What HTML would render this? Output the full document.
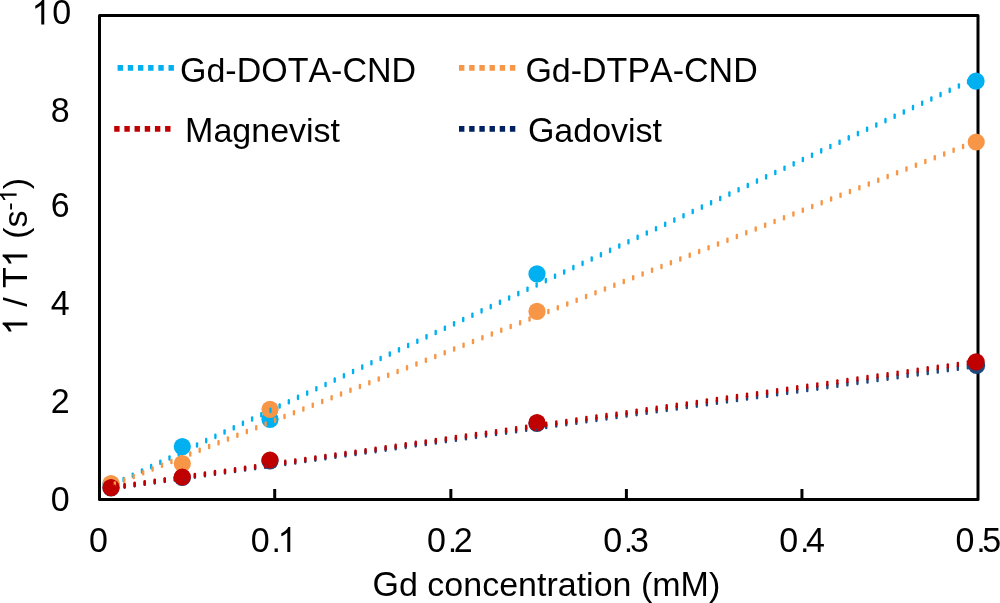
<!DOCTYPE html>
<html><head><meta charset="utf-8">
<style>
html,body{margin:0;padding:0;background:#fff;}
body{width:1000px;height:603px;overflow:hidden;position:relative;}
svg{position:absolute;left:0;top:0;will-change:transform;}
text{font-family:"Liberation Sans",sans-serif;fill:#000;font-kerning:none;white-space:pre;}
</style></head><body>
<svg width="1000" height="603" viewBox="0 0 1000 603">
<rect x="99.5" y="15.5" width="878.5" height="484" fill="none" stroke="#000" stroke-width="3" stroke-linejoin="round"/>
<g stroke="#000" stroke-width="3">
<line x1="274.7" y1="489" x2="274.7" y2="499.5"/>
<line x1="450.85" y1="489" x2="450.85" y2="499.5"/>
<line x1="626.4" y1="489" x2="626.4" y2="499.5"/>
<line x1="801.95" y1="489" x2="801.95" y2="499.5"/>
</g>
<circle cx="111" cy="484" r="8.6" fill="#00B0F0"/>
<circle cx="182.3" cy="446.6" r="8.6" fill="#00B0F0"/>
<circle cx="270" cy="419.3" r="8.6" fill="#00B0F0"/>
<circle cx="537" cy="273.9" r="8.6" fill="#00B0F0"/>
<circle cx="976" cy="81.2" r="8.6" fill="#00B0F0"/>
<circle cx="111" cy="483.5" r="8.6" fill="#F79646"/>
<circle cx="182.3" cy="463.6" r="8.6" fill="#F79646"/>
<circle cx="270" cy="409.3" r="8.6" fill="#F79646"/>
<circle cx="537" cy="311.4" r="8.6" fill="#F79646"/>
<circle cx="976.2" cy="142" r="8.6" fill="#F79646"/>
<circle cx="111" cy="488" r="8.6" fill="#1F497D"/>
<circle cx="182.3" cy="477.5" r="8.6" fill="#1F497D"/>
<circle cx="270" cy="461" r="8.6" fill="#1F497D"/>
<circle cx="537" cy="423.5" r="8.6" fill="#1F497D"/>
<circle cx="976.6" cy="365.3" r="8.6" fill="#1F497D"/>
<circle cx="111" cy="487.6" r="8.6" fill="#C00000"/>
<circle cx="182.3" cy="477" r="8.6" fill="#C00000"/>
<circle cx="270" cy="460" r="8.6" fill="#C00000"/>
<circle cx="537" cy="422.7" r="8.6" fill="#C00000"/>
<circle cx="976.1" cy="361.8" r="8.6" fill="#C00000"/>
<rect x="122.40" y="476.80" width="2.4" height="5.6" rx="1.1" fill="#00B0F0"/>
<rect x="131.58" y="472.47" width="2.4" height="5.6" rx="1.1" fill="#00B0F0"/>
<rect x="140.76" y="468.15" width="2.4" height="5.6" rx="1.1" fill="#00B0F0"/>
<rect x="149.94" y="463.82" width="2.4" height="5.6" rx="1.1" fill="#00B0F0"/>
<rect x="159.12" y="459.50" width="2.4" height="5.6" rx="1.1" fill="#00B0F0"/>
<rect x="168.30" y="455.17" width="2.4" height="5.6" rx="1.1" fill="#00B0F0"/>
<rect x="177.47" y="450.85" width="2.4" height="5.6" rx="1.1" fill="#00B0F0"/>
<rect x="186.65" y="446.52" width="2.4" height="5.6" rx="1.1" fill="#00B0F0"/>
<rect x="195.83" y="442.20" width="2.4" height="5.6" rx="1.1" fill="#00B0F0"/>
<rect x="205.01" y="437.87" width="2.4" height="5.6" rx="1.1" fill="#00B0F0"/>
<rect x="214.19" y="433.55" width="2.4" height="5.6" rx="1.1" fill="#00B0F0"/>
<rect x="223.37" y="429.22" width="2.4" height="5.6" rx="1.1" fill="#00B0F0"/>
<rect x="232.55" y="424.90" width="2.4" height="5.6" rx="1.1" fill="#00B0F0"/>
<rect x="241.73" y="420.57" width="2.4" height="5.6" rx="1.1" fill="#00B0F0"/>
<rect x="250.91" y="416.25" width="2.4" height="5.6" rx="1.1" fill="#00B0F0"/>
<rect x="260.09" y="411.92" width="2.4" height="5.6" rx="1.1" fill="#00B0F0"/>
<rect x="269.26" y="407.60" width="2.4" height="5.6" rx="1.1" fill="#00B0F0"/>
<rect x="278.44" y="403.27" width="2.4" height="5.6" rx="1.1" fill="#00B0F0"/>
<rect x="287.62" y="398.95" width="2.4" height="5.6" rx="1.1" fill="#00B0F0"/>
<rect x="296.80" y="394.62" width="2.4" height="5.6" rx="1.1" fill="#00B0F0"/>
<rect x="305.98" y="390.30" width="2.4" height="5.6" rx="1.1" fill="#00B0F0"/>
<rect x="315.16" y="385.97" width="2.4" height="5.6" rx="1.1" fill="#00B0F0"/>
<rect x="324.34" y="381.65" width="2.4" height="5.6" rx="1.1" fill="#00B0F0"/>
<rect x="333.52" y="377.32" width="2.4" height="5.6" rx="1.1" fill="#00B0F0"/>
<rect x="342.70" y="373.00" width="2.4" height="5.6" rx="1.1" fill="#00B0F0"/>
<rect x="351.88" y="368.67" width="2.4" height="5.6" rx="1.1" fill="#00B0F0"/>
<rect x="361.05" y="364.35" width="2.4" height="5.6" rx="1.1" fill="#00B0F0"/>
<rect x="370.23" y="360.02" width="2.4" height="5.6" rx="1.1" fill="#00B0F0"/>
<rect x="379.41" y="355.70" width="2.4" height="5.6" rx="1.1" fill="#00B0F0"/>
<rect x="388.59" y="351.37" width="2.4" height="5.6" rx="1.1" fill="#00B0F0"/>
<rect x="397.77" y="347.05" width="2.4" height="5.6" rx="1.1" fill="#00B0F0"/>
<rect x="406.95" y="342.72" width="2.4" height="5.6" rx="1.1" fill="#00B0F0"/>
<rect x="416.13" y="338.40" width="2.4" height="5.6" rx="1.1" fill="#00B0F0"/>
<rect x="425.31" y="334.07" width="2.4" height="5.6" rx="1.1" fill="#00B0F0"/>
<rect x="434.49" y="329.75" width="2.4" height="5.6" rx="1.1" fill="#00B0F0"/>
<rect x="443.67" y="325.42" width="2.4" height="5.6" rx="1.1" fill="#00B0F0"/>
<rect x="452.84" y="321.09" width="2.4" height="5.6" rx="1.1" fill="#00B0F0"/>
<rect x="462.02" y="316.77" width="2.4" height="5.6" rx="1.1" fill="#00B0F0"/>
<rect x="471.20" y="312.44" width="2.4" height="5.6" rx="1.1" fill="#00B0F0"/>
<rect x="480.38" y="308.12" width="2.4" height="5.6" rx="1.1" fill="#00B0F0"/>
<rect x="489.56" y="303.79" width="2.4" height="5.6" rx="1.1" fill="#00B0F0"/>
<rect x="498.74" y="299.47" width="2.4" height="5.6" rx="1.1" fill="#00B0F0"/>
<rect x="507.92" y="295.14" width="2.4" height="5.6" rx="1.1" fill="#00B0F0"/>
<rect x="517.10" y="290.82" width="2.4" height="5.6" rx="1.1" fill="#00B0F0"/>
<rect x="526.28" y="286.49" width="2.4" height="5.6" rx="1.1" fill="#00B0F0"/>
<rect x="535.45" y="282.17" width="2.4" height="5.6" rx="1.1" fill="#00B0F0"/>
<rect x="544.63" y="277.84" width="2.4" height="5.6" rx="1.1" fill="#00B0F0"/>
<rect x="553.81" y="273.52" width="2.4" height="5.6" rx="1.1" fill="#00B0F0"/>
<rect x="562.99" y="269.19" width="2.4" height="5.6" rx="1.1" fill="#00B0F0"/>
<rect x="572.17" y="264.87" width="2.4" height="5.6" rx="1.1" fill="#00B0F0"/>
<rect x="581.35" y="260.54" width="2.4" height="5.6" rx="1.1" fill="#00B0F0"/>
<rect x="590.53" y="256.22" width="2.4" height="5.6" rx="1.1" fill="#00B0F0"/>
<rect x="599.71" y="251.89" width="2.4" height="5.6" rx="1.1" fill="#00B0F0"/>
<rect x="608.89" y="247.57" width="2.4" height="5.6" rx="1.1" fill="#00B0F0"/>
<rect x="618.07" y="243.24" width="2.4" height="5.6" rx="1.1" fill="#00B0F0"/>
<rect x="627.24" y="238.92" width="2.4" height="5.6" rx="1.1" fill="#00B0F0"/>
<rect x="636.42" y="234.59" width="2.4" height="5.6" rx="1.1" fill="#00B0F0"/>
<rect x="645.60" y="230.27" width="2.4" height="5.6" rx="1.1" fill="#00B0F0"/>
<rect x="654.78" y="225.94" width="2.4" height="5.6" rx="1.1" fill="#00B0F0"/>
<rect x="663.96" y="221.62" width="2.4" height="5.6" rx="1.1" fill="#00B0F0"/>
<rect x="673.14" y="217.29" width="2.4" height="5.6" rx="1.1" fill="#00B0F0"/>
<rect x="682.32" y="212.97" width="2.4" height="5.6" rx="1.1" fill="#00B0F0"/>
<rect x="691.50" y="208.64" width="2.4" height="5.6" rx="1.1" fill="#00B0F0"/>
<rect x="700.68" y="204.32" width="2.4" height="5.6" rx="1.1" fill="#00B0F0"/>
<rect x="709.86" y="199.99" width="2.4" height="5.6" rx="1.1" fill="#00B0F0"/>
<rect x="719.03" y="195.67" width="2.4" height="5.6" rx="1.1" fill="#00B0F0"/>
<rect x="728.21" y="191.34" width="2.4" height="5.6" rx="1.1" fill="#00B0F0"/>
<rect x="737.39" y="187.02" width="2.4" height="5.6" rx="1.1" fill="#00B0F0"/>
<rect x="746.57" y="182.69" width="2.4" height="5.6" rx="1.1" fill="#00B0F0"/>
<rect x="755.75" y="178.37" width="2.4" height="5.6" rx="1.1" fill="#00B0F0"/>
<rect x="764.93" y="174.04" width="2.4" height="5.6" rx="1.1" fill="#00B0F0"/>
<rect x="774.11" y="169.71" width="2.4" height="5.6" rx="1.1" fill="#00B0F0"/>
<rect x="783.29" y="165.39" width="2.4" height="5.6" rx="1.1" fill="#00B0F0"/>
<rect x="792.47" y="161.06" width="2.4" height="5.6" rx="1.1" fill="#00B0F0"/>
<rect x="801.65" y="156.74" width="2.4" height="5.6" rx="1.1" fill="#00B0F0"/>
<rect x="810.82" y="152.41" width="2.4" height="5.6" rx="1.1" fill="#00B0F0"/>
<rect x="820.00" y="148.09" width="2.4" height="5.6" rx="1.1" fill="#00B0F0"/>
<rect x="829.18" y="143.76" width="2.4" height="5.6" rx="1.1" fill="#00B0F0"/>
<rect x="838.36" y="139.44" width="2.4" height="5.6" rx="1.1" fill="#00B0F0"/>
<rect x="847.54" y="135.11" width="2.4" height="5.6" rx="1.1" fill="#00B0F0"/>
<rect x="856.72" y="130.79" width="2.4" height="5.6" rx="1.1" fill="#00B0F0"/>
<rect x="865.90" y="126.46" width="2.4" height="5.6" rx="1.1" fill="#00B0F0"/>
<rect x="875.08" y="122.14" width="2.4" height="5.6" rx="1.1" fill="#00B0F0"/>
<rect x="884.26" y="117.81" width="2.4" height="5.6" rx="1.1" fill="#00B0F0"/>
<rect x="893.44" y="113.49" width="2.4" height="5.6" rx="1.1" fill="#00B0F0"/>
<rect x="902.61" y="109.16" width="2.4" height="5.6" rx="1.1" fill="#00B0F0"/>
<rect x="911.79" y="104.84" width="2.4" height="5.6" rx="1.1" fill="#00B0F0"/>
<rect x="920.97" y="100.51" width="2.4" height="5.6" rx="1.1" fill="#00B0F0"/>
<rect x="930.15" y="96.19" width="2.4" height="5.6" rx="1.1" fill="#00B0F0"/>
<rect x="939.33" y="91.86" width="2.4" height="5.6" rx="1.1" fill="#00B0F0"/>
<rect x="948.51" y="87.54" width="2.4" height="5.6" rx="1.1" fill="#00B0F0"/>
<rect x="957.69" y="83.21" width="2.4" height="5.6" rx="1.1" fill="#00B0F0"/>
<rect x="966.87" y="78.89" width="2.4" height="5.6" rx="1.1" fill="#00B0F0"/>
<rect x="113.68" y="481.15" width="2.4" height="5.6" rx="1.1" fill="#F79646"/>
<rect x="123.10" y="477.40" width="2.4" height="5.6" rx="1.1" fill="#F79646"/>
<rect x="132.52" y="473.65" width="2.4" height="5.6" rx="1.1" fill="#F79646"/>
<rect x="141.95" y="469.90" width="2.4" height="5.6" rx="1.1" fill="#F79646"/>
<rect x="151.37" y="466.15" width="2.4" height="5.6" rx="1.1" fill="#F79646"/>
<rect x="160.80" y="462.40" width="2.4" height="5.6" rx="1.1" fill="#F79646"/>
<rect x="170.22" y="458.66" width="2.4" height="5.6" rx="1.1" fill="#F79646"/>
<rect x="179.64" y="454.91" width="2.4" height="5.6" rx="1.1" fill="#F79646"/>
<rect x="189.07" y="451.16" width="2.4" height="5.6" rx="1.1" fill="#F79646"/>
<rect x="198.49" y="447.41" width="2.4" height="5.6" rx="1.1" fill="#F79646"/>
<rect x="207.92" y="443.66" width="2.4" height="5.6" rx="1.1" fill="#F79646"/>
<rect x="217.34" y="439.91" width="2.4" height="5.6" rx="1.1" fill="#F79646"/>
<rect x="226.76" y="436.16" width="2.4" height="5.6" rx="1.1" fill="#F79646"/>
<rect x="236.19" y="432.41" width="2.4" height="5.6" rx="1.1" fill="#F79646"/>
<rect x="245.61" y="428.66" width="2.4" height="5.6" rx="1.1" fill="#F79646"/>
<rect x="255.04" y="424.92" width="2.4" height="5.6" rx="1.1" fill="#F79646"/>
<rect x="264.46" y="421.17" width="2.4" height="5.6" rx="1.1" fill="#F79646"/>
<rect x="273.88" y="417.42" width="2.4" height="5.6" rx="1.1" fill="#F79646"/>
<rect x="283.31" y="413.67" width="2.4" height="5.6" rx="1.1" fill="#F79646"/>
<rect x="292.73" y="409.92" width="2.4" height="5.6" rx="1.1" fill="#F79646"/>
<rect x="302.16" y="406.17" width="2.4" height="5.6" rx="1.1" fill="#F79646"/>
<rect x="311.58" y="402.42" width="2.4" height="5.6" rx="1.1" fill="#F79646"/>
<rect x="321.00" y="398.67" width="2.4" height="5.6" rx="1.1" fill="#F79646"/>
<rect x="330.43" y="394.92" width="2.4" height="5.6" rx="1.1" fill="#F79646"/>
<rect x="339.85" y="391.18" width="2.4" height="5.6" rx="1.1" fill="#F79646"/>
<rect x="349.28" y="387.43" width="2.4" height="5.6" rx="1.1" fill="#F79646"/>
<rect x="358.70" y="383.68" width="2.4" height="5.6" rx="1.1" fill="#F79646"/>
<rect x="368.12" y="379.93" width="2.4" height="5.6" rx="1.1" fill="#F79646"/>
<rect x="377.55" y="376.18" width="2.4" height="5.6" rx="1.1" fill="#F79646"/>
<rect x="386.97" y="372.43" width="2.4" height="5.6" rx="1.1" fill="#F79646"/>
<rect x="396.40" y="368.68" width="2.4" height="5.6" rx="1.1" fill="#F79646"/>
<rect x="405.82" y="364.93" width="2.4" height="5.6" rx="1.1" fill="#F79646"/>
<rect x="415.24" y="361.19" width="2.4" height="5.6" rx="1.1" fill="#F79646"/>
<rect x="424.67" y="357.44" width="2.4" height="5.6" rx="1.1" fill="#F79646"/>
<rect x="434.09" y="353.69" width="2.4" height="5.6" rx="1.1" fill="#F79646"/>
<rect x="443.52" y="349.94" width="2.4" height="5.6" rx="1.1" fill="#F79646"/>
<rect x="452.94" y="346.19" width="2.4" height="5.6" rx="1.1" fill="#F79646"/>
<rect x="462.36" y="342.44" width="2.4" height="5.6" rx="1.1" fill="#F79646"/>
<rect x="471.79" y="338.69" width="2.4" height="5.6" rx="1.1" fill="#F79646"/>
<rect x="481.21" y="334.94" width="2.4" height="5.6" rx="1.1" fill="#F79646"/>
<rect x="490.64" y="331.19" width="2.4" height="5.6" rx="1.1" fill="#F79646"/>
<rect x="500.06" y="327.45" width="2.4" height="5.6" rx="1.1" fill="#F79646"/>
<rect x="509.48" y="323.70" width="2.4" height="5.6" rx="1.1" fill="#F79646"/>
<rect x="518.91" y="319.95" width="2.4" height="5.6" rx="1.1" fill="#F79646"/>
<rect x="528.33" y="316.20" width="2.4" height="5.6" rx="1.1" fill="#F79646"/>
<rect x="537.76" y="312.45" width="2.4" height="5.6" rx="1.1" fill="#F79646"/>
<rect x="547.18" y="308.70" width="2.4" height="5.6" rx="1.1" fill="#F79646"/>
<rect x="556.60" y="304.95" width="2.4" height="5.6" rx="1.1" fill="#F79646"/>
<rect x="566.03" y="301.20" width="2.4" height="5.6" rx="1.1" fill="#F79646"/>
<rect x="575.45" y="297.45" width="2.4" height="5.6" rx="1.1" fill="#F79646"/>
<rect x="584.88" y="293.71" width="2.4" height="5.6" rx="1.1" fill="#F79646"/>
<rect x="594.30" y="289.96" width="2.4" height="5.6" rx="1.1" fill="#F79646"/>
<rect x="603.72" y="286.21" width="2.4" height="5.6" rx="1.1" fill="#F79646"/>
<rect x="613.15" y="282.46" width="2.4" height="5.6" rx="1.1" fill="#F79646"/>
<rect x="622.57" y="278.71" width="2.4" height="5.6" rx="1.1" fill="#F79646"/>
<rect x="632.00" y="274.96" width="2.4" height="5.6" rx="1.1" fill="#F79646"/>
<rect x="641.42" y="271.21" width="2.4" height="5.6" rx="1.1" fill="#F79646"/>
<rect x="650.84" y="267.46" width="2.4" height="5.6" rx="1.1" fill="#F79646"/>
<rect x="660.27" y="263.71" width="2.4" height="5.6" rx="1.1" fill="#F79646"/>
<rect x="669.69" y="259.97" width="2.4" height="5.6" rx="1.1" fill="#F79646"/>
<rect x="679.12" y="256.22" width="2.4" height="5.6" rx="1.1" fill="#F79646"/>
<rect x="688.54" y="252.47" width="2.4" height="5.6" rx="1.1" fill="#F79646"/>
<rect x="697.96" y="248.72" width="2.4" height="5.6" rx="1.1" fill="#F79646"/>
<rect x="707.39" y="244.97" width="2.4" height="5.6" rx="1.1" fill="#F79646"/>
<rect x="716.81" y="241.22" width="2.4" height="5.6" rx="1.1" fill="#F79646"/>
<rect x="726.24" y="237.47" width="2.4" height="5.6" rx="1.1" fill="#F79646"/>
<rect x="735.66" y="233.72" width="2.4" height="5.6" rx="1.1" fill="#F79646"/>
<rect x="745.08" y="229.97" width="2.4" height="5.6" rx="1.1" fill="#F79646"/>
<rect x="754.51" y="226.23" width="2.4" height="5.6" rx="1.1" fill="#F79646"/>
<rect x="763.93" y="222.48" width="2.4" height="5.6" rx="1.1" fill="#F79646"/>
<rect x="773.36" y="218.73" width="2.4" height="5.6" rx="1.1" fill="#F79646"/>
<rect x="782.78" y="214.98" width="2.4" height="5.6" rx="1.1" fill="#F79646"/>
<rect x="792.20" y="211.23" width="2.4" height="5.6" rx="1.1" fill="#F79646"/>
<rect x="801.63" y="207.48" width="2.4" height="5.6" rx="1.1" fill="#F79646"/>
<rect x="811.05" y="203.73" width="2.4" height="5.6" rx="1.1" fill="#F79646"/>
<rect x="820.48" y="199.98" width="2.4" height="5.6" rx="1.1" fill="#F79646"/>
<rect x="829.90" y="196.23" width="2.4" height="5.6" rx="1.1" fill="#F79646"/>
<rect x="839.32" y="192.49" width="2.4" height="5.6" rx="1.1" fill="#F79646"/>
<rect x="848.75" y="188.74" width="2.4" height="5.6" rx="1.1" fill="#F79646"/>
<rect x="858.17" y="184.99" width="2.4" height="5.6" rx="1.1" fill="#F79646"/>
<rect x="867.60" y="181.24" width="2.4" height="5.6" rx="1.1" fill="#F79646"/>
<rect x="877.02" y="177.49" width="2.4" height="5.6" rx="1.1" fill="#F79646"/>
<rect x="886.44" y="173.74" width="2.4" height="5.6" rx="1.1" fill="#F79646"/>
<rect x="895.87" y="169.99" width="2.4" height="5.6" rx="1.1" fill="#F79646"/>
<rect x="905.29" y="166.24" width="2.4" height="5.6" rx="1.1" fill="#F79646"/>
<rect x="914.72" y="162.50" width="2.4" height="5.6" rx="1.1" fill="#F79646"/>
<rect x="924.14" y="158.75" width="2.4" height="5.6" rx="1.1" fill="#F79646"/>
<rect x="933.56" y="155.00" width="2.4" height="5.6" rx="1.1" fill="#F79646"/>
<rect x="942.99" y="151.25" width="2.4" height="5.6" rx="1.1" fill="#F79646"/>
<rect x="952.41" y="147.50" width="2.4" height="5.6" rx="1.1" fill="#F79646"/>
<rect x="961.84" y="143.75" width="2.4" height="5.6" rx="1.1" fill="#F79646"/>
<rect x="123.40" y="483.30" width="2.4" height="5.6" rx="1.1" fill="#1F497D"/>
<rect x="133.44" y="481.88" width="2.4" height="5.6" rx="1.1" fill="#1F497D"/>
<rect x="143.48" y="480.46" width="2.4" height="5.6" rx="1.1" fill="#1F497D"/>
<rect x="153.52" y="479.04" width="2.4" height="5.6" rx="1.1" fill="#1F497D"/>
<rect x="163.56" y="477.62" width="2.4" height="5.6" rx="1.1" fill="#1F497D"/>
<rect x="173.60" y="476.20" width="2.4" height="5.6" rx="1.1" fill="#1F497D"/>
<rect x="183.63" y="474.78" width="2.4" height="5.6" rx="1.1" fill="#1F497D"/>
<rect x="193.67" y="473.36" width="2.4" height="5.6" rx="1.1" fill="#1F497D"/>
<rect x="203.71" y="471.94" width="2.4" height="5.6" rx="1.1" fill="#1F497D"/>
<rect x="213.75" y="470.52" width="2.4" height="5.6" rx="1.1" fill="#1F497D"/>
<rect x="223.79" y="469.09" width="2.4" height="5.6" rx="1.1" fill="#1F497D"/>
<rect x="233.83" y="467.67" width="2.4" height="5.6" rx="1.1" fill="#1F497D"/>
<rect x="243.87" y="466.25" width="2.4" height="5.6" rx="1.1" fill="#1F497D"/>
<rect x="253.91" y="464.83" width="2.4" height="5.6" rx="1.1" fill="#1F497D"/>
<rect x="263.95" y="463.41" width="2.4" height="5.6" rx="1.1" fill="#1F497D"/>
<rect x="273.99" y="461.99" width="2.4" height="5.6" rx="1.1" fill="#1F497D"/>
<rect x="284.02" y="460.57" width="2.4" height="5.6" rx="1.1" fill="#1F497D"/>
<rect x="294.06" y="459.15" width="2.4" height="5.6" rx="1.1" fill="#1F497D"/>
<rect x="304.10" y="457.73" width="2.4" height="5.6" rx="1.1" fill="#1F497D"/>
<rect x="314.14" y="456.31" width="2.4" height="5.6" rx="1.1" fill="#1F497D"/>
<rect x="324.18" y="454.89" width="2.4" height="5.6" rx="1.1" fill="#1F497D"/>
<rect x="334.22" y="453.47" width="2.4" height="5.6" rx="1.1" fill="#1F497D"/>
<rect x="344.26" y="452.05" width="2.4" height="5.6" rx="1.1" fill="#1F497D"/>
<rect x="354.30" y="450.63" width="2.4" height="5.6" rx="1.1" fill="#1F497D"/>
<rect x="364.34" y="449.21" width="2.4" height="5.6" rx="1.1" fill="#1F497D"/>
<rect x="374.38" y="447.79" width="2.4" height="5.6" rx="1.1" fill="#1F497D"/>
<rect x="384.41" y="446.37" width="2.4" height="5.6" rx="1.1" fill="#1F497D"/>
<rect x="394.45" y="444.95" width="2.4" height="5.6" rx="1.1" fill="#1F497D"/>
<rect x="404.49" y="443.53" width="2.4" height="5.6" rx="1.1" fill="#1F497D"/>
<rect x="414.53" y="442.10" width="2.4" height="5.6" rx="1.1" fill="#1F497D"/>
<rect x="424.57" y="440.68" width="2.4" height="5.6" rx="1.1" fill="#1F497D"/>
<rect x="434.61" y="439.26" width="2.4" height="5.6" rx="1.1" fill="#1F497D"/>
<rect x="444.65" y="437.84" width="2.4" height="5.6" rx="1.1" fill="#1F497D"/>
<rect x="454.69" y="436.42" width="2.4" height="5.6" rx="1.1" fill="#1F497D"/>
<rect x="464.73" y="435.00" width="2.4" height="5.6" rx="1.1" fill="#1F497D"/>
<rect x="474.77" y="433.58" width="2.4" height="5.6" rx="1.1" fill="#1F497D"/>
<rect x="484.80" y="432.16" width="2.4" height="5.6" rx="1.1" fill="#1F497D"/>
<rect x="494.84" y="430.74" width="2.4" height="5.6" rx="1.1" fill="#1F497D"/>
<rect x="504.88" y="429.32" width="2.4" height="5.6" rx="1.1" fill="#1F497D"/>
<rect x="514.92" y="427.90" width="2.4" height="5.6" rx="1.1" fill="#1F497D"/>
<rect x="524.96" y="426.48" width="2.4" height="5.6" rx="1.1" fill="#1F497D"/>
<rect x="535.00" y="425.06" width="2.4" height="5.6" rx="1.1" fill="#1F497D"/>
<rect x="545.04" y="423.64" width="2.4" height="5.6" rx="1.1" fill="#1F497D"/>
<rect x="555.08" y="422.22" width="2.4" height="5.6" rx="1.1" fill="#1F497D"/>
<rect x="565.12" y="420.80" width="2.4" height="5.6" rx="1.1" fill="#1F497D"/>
<rect x="575.15" y="419.38" width="2.4" height="5.6" rx="1.1" fill="#1F497D"/>
<rect x="585.19" y="417.96" width="2.4" height="5.6" rx="1.1" fill="#1F497D"/>
<rect x="595.23" y="416.54" width="2.4" height="5.6" rx="1.1" fill="#1F497D"/>
<rect x="605.27" y="415.12" width="2.4" height="5.6" rx="1.1" fill="#1F497D"/>
<rect x="615.31" y="413.69" width="2.4" height="5.6" rx="1.1" fill="#1F497D"/>
<rect x="625.35" y="412.27" width="2.4" height="5.6" rx="1.1" fill="#1F497D"/>
<rect x="635.39" y="410.85" width="2.4" height="5.6" rx="1.1" fill="#1F497D"/>
<rect x="645.43" y="409.43" width="2.4" height="5.6" rx="1.1" fill="#1F497D"/>
<rect x="655.47" y="408.01" width="2.4" height="5.6" rx="1.1" fill="#1F497D"/>
<rect x="665.51" y="406.59" width="2.4" height="5.6" rx="1.1" fill="#1F497D"/>
<rect x="675.54" y="405.17" width="2.4" height="5.6" rx="1.1" fill="#1F497D"/>
<rect x="685.58" y="403.75" width="2.4" height="5.6" rx="1.1" fill="#1F497D"/>
<rect x="695.62" y="402.33" width="2.4" height="5.6" rx="1.1" fill="#1F497D"/>
<rect x="705.66" y="400.91" width="2.4" height="5.6" rx="1.1" fill="#1F497D"/>
<rect x="715.70" y="399.49" width="2.4" height="5.6" rx="1.1" fill="#1F497D"/>
<rect x="725.74" y="398.07" width="2.4" height="5.6" rx="1.1" fill="#1F497D"/>
<rect x="735.78" y="396.65" width="2.4" height="5.6" rx="1.1" fill="#1F497D"/>
<rect x="745.82" y="395.23" width="2.4" height="5.6" rx="1.1" fill="#1F497D"/>
<rect x="755.86" y="393.81" width="2.4" height="5.6" rx="1.1" fill="#1F497D"/>
<rect x="765.90" y="392.39" width="2.4" height="5.6" rx="1.1" fill="#1F497D"/>
<rect x="775.93" y="390.97" width="2.4" height="5.6" rx="1.1" fill="#1F497D"/>
<rect x="785.97" y="389.55" width="2.4" height="5.6" rx="1.1" fill="#1F497D"/>
<rect x="796.01" y="388.13" width="2.4" height="5.6" rx="1.1" fill="#1F497D"/>
<rect x="806.05" y="386.70" width="2.4" height="5.6" rx="1.1" fill="#1F497D"/>
<rect x="816.09" y="385.28" width="2.4" height="5.6" rx="1.1" fill="#1F497D"/>
<rect x="826.13" y="383.86" width="2.4" height="5.6" rx="1.1" fill="#1F497D"/>
<rect x="836.17" y="382.44" width="2.4" height="5.6" rx="1.1" fill="#1F497D"/>
<rect x="846.21" y="381.02" width="2.4" height="5.6" rx="1.1" fill="#1F497D"/>
<rect x="856.25" y="379.60" width="2.4" height="5.6" rx="1.1" fill="#1F497D"/>
<rect x="866.29" y="378.18" width="2.4" height="5.6" rx="1.1" fill="#1F497D"/>
<rect x="876.32" y="376.76" width="2.4" height="5.6" rx="1.1" fill="#1F497D"/>
<rect x="886.36" y="375.34" width="2.4" height="5.6" rx="1.1" fill="#1F497D"/>
<rect x="896.40" y="373.92" width="2.4" height="5.6" rx="1.1" fill="#1F497D"/>
<rect x="906.44" y="372.50" width="2.4" height="5.6" rx="1.1" fill="#1F497D"/>
<rect x="916.48" y="371.08" width="2.4" height="5.6" rx="1.1" fill="#1F497D"/>
<rect x="926.52" y="369.66" width="2.4" height="5.6" rx="1.1" fill="#1F497D"/>
<rect x="936.56" y="368.24" width="2.4" height="5.6" rx="1.1" fill="#1F497D"/>
<rect x="946.60" y="366.82" width="2.4" height="5.6" rx="1.1" fill="#1F497D"/>
<rect x="956.64" y="365.40" width="2.4" height="5.6" rx="1.1" fill="#1F497D"/>
<rect x="966.68" y="363.98" width="2.4" height="5.6" rx="1.1" fill="#1F497D"/>
<rect x="113.36" y="484.46" width="2.4" height="5.6" rx="1.1" fill="#C00000"/>
<rect x="123.40" y="483.00" width="2.4" height="5.6" rx="1.1" fill="#C00000"/>
<rect x="133.44" y="481.54" width="2.4" height="5.6" rx="1.1" fill="#C00000"/>
<rect x="143.48" y="480.08" width="2.4" height="5.6" rx="1.1" fill="#C00000"/>
<rect x="153.52" y="478.61" width="2.4" height="5.6" rx="1.1" fill="#C00000"/>
<rect x="163.56" y="477.15" width="2.4" height="5.6" rx="1.1" fill="#C00000"/>
<rect x="173.60" y="475.69" width="2.4" height="5.6" rx="1.1" fill="#C00000"/>
<rect x="183.63" y="474.23" width="2.4" height="5.6" rx="1.1" fill="#C00000"/>
<rect x="193.67" y="472.77" width="2.4" height="5.6" rx="1.1" fill="#C00000"/>
<rect x="203.71" y="471.31" width="2.4" height="5.6" rx="1.1" fill="#C00000"/>
<rect x="213.75" y="469.84" width="2.4" height="5.6" rx="1.1" fill="#C00000"/>
<rect x="223.79" y="468.38" width="2.4" height="5.6" rx="1.1" fill="#C00000"/>
<rect x="233.83" y="466.92" width="2.4" height="5.6" rx="1.1" fill="#C00000"/>
<rect x="243.87" y="465.46" width="2.4" height="5.6" rx="1.1" fill="#C00000"/>
<rect x="253.91" y="464.00" width="2.4" height="5.6" rx="1.1" fill="#C00000"/>
<rect x="263.95" y="462.54" width="2.4" height="5.6" rx="1.1" fill="#C00000"/>
<rect x="273.99" y="461.07" width="2.4" height="5.6" rx="1.1" fill="#C00000"/>
<rect x="284.02" y="459.61" width="2.4" height="5.6" rx="1.1" fill="#C00000"/>
<rect x="294.06" y="458.15" width="2.4" height="5.6" rx="1.1" fill="#C00000"/>
<rect x="304.10" y="456.69" width="2.4" height="5.6" rx="1.1" fill="#C00000"/>
<rect x="314.14" y="455.23" width="2.4" height="5.6" rx="1.1" fill="#C00000"/>
<rect x="324.18" y="453.77" width="2.4" height="5.6" rx="1.1" fill="#C00000"/>
<rect x="334.22" y="452.30" width="2.4" height="5.6" rx="1.1" fill="#C00000"/>
<rect x="344.26" y="450.84" width="2.4" height="5.6" rx="1.1" fill="#C00000"/>
<rect x="354.30" y="449.38" width="2.4" height="5.6" rx="1.1" fill="#C00000"/>
<rect x="364.34" y="447.92" width="2.4" height="5.6" rx="1.1" fill="#C00000"/>
<rect x="374.38" y="446.46" width="2.4" height="5.6" rx="1.1" fill="#C00000"/>
<rect x="384.41" y="445.00" width="2.4" height="5.6" rx="1.1" fill="#C00000"/>
<rect x="394.45" y="443.53" width="2.4" height="5.6" rx="1.1" fill="#C00000"/>
<rect x="404.49" y="442.07" width="2.4" height="5.6" rx="1.1" fill="#C00000"/>
<rect x="414.53" y="440.61" width="2.4" height="5.6" rx="1.1" fill="#C00000"/>
<rect x="424.57" y="439.15" width="2.4" height="5.6" rx="1.1" fill="#C00000"/>
<rect x="434.61" y="437.69" width="2.4" height="5.6" rx="1.1" fill="#C00000"/>
<rect x="444.65" y="436.23" width="2.4" height="5.6" rx="1.1" fill="#C00000"/>
<rect x="454.69" y="434.76" width="2.4" height="5.6" rx="1.1" fill="#C00000"/>
<rect x="464.73" y="433.30" width="2.4" height="5.6" rx="1.1" fill="#C00000"/>
<rect x="474.77" y="431.84" width="2.4" height="5.6" rx="1.1" fill="#C00000"/>
<rect x="484.80" y="430.38" width="2.4" height="5.6" rx="1.1" fill="#C00000"/>
<rect x="494.84" y="428.92" width="2.4" height="5.6" rx="1.1" fill="#C00000"/>
<rect x="504.88" y="427.46" width="2.4" height="5.6" rx="1.1" fill="#C00000"/>
<rect x="514.92" y="425.99" width="2.4" height="5.6" rx="1.1" fill="#C00000"/>
<rect x="524.96" y="424.53" width="2.4" height="5.6" rx="1.1" fill="#C00000"/>
<rect x="535.00" y="423.07" width="2.4" height="5.6" rx="1.1" fill="#C00000"/>
<rect x="545.04" y="421.61" width="2.4" height="5.6" rx="1.1" fill="#C00000"/>
<rect x="555.08" y="420.15" width="2.4" height="5.6" rx="1.1" fill="#C00000"/>
<rect x="565.12" y="418.69" width="2.4" height="5.6" rx="1.1" fill="#C00000"/>
<rect x="575.15" y="417.22" width="2.4" height="5.6" rx="1.1" fill="#C00000"/>
<rect x="585.19" y="415.76" width="2.4" height="5.6" rx="1.1" fill="#C00000"/>
<rect x="595.23" y="414.30" width="2.4" height="5.6" rx="1.1" fill="#C00000"/>
<rect x="605.27" y="412.84" width="2.4" height="5.6" rx="1.1" fill="#C00000"/>
<rect x="615.31" y="411.38" width="2.4" height="5.6" rx="1.1" fill="#C00000"/>
<rect x="625.35" y="409.92" width="2.4" height="5.6" rx="1.1" fill="#C00000"/>
<rect x="635.39" y="408.45" width="2.4" height="5.6" rx="1.1" fill="#C00000"/>
<rect x="645.43" y="406.99" width="2.4" height="5.6" rx="1.1" fill="#C00000"/>
<rect x="655.47" y="405.53" width="2.4" height="5.6" rx="1.1" fill="#C00000"/>
<rect x="665.51" y="404.07" width="2.4" height="5.6" rx="1.1" fill="#C00000"/>
<rect x="675.54" y="402.61" width="2.4" height="5.6" rx="1.1" fill="#C00000"/>
<rect x="685.58" y="401.15" width="2.4" height="5.6" rx="1.1" fill="#C00000"/>
<rect x="695.62" y="399.68" width="2.4" height="5.6" rx="1.1" fill="#C00000"/>
<rect x="705.66" y="398.22" width="2.4" height="5.6" rx="1.1" fill="#C00000"/>
<rect x="715.70" y="396.76" width="2.4" height="5.6" rx="1.1" fill="#C00000"/>
<rect x="725.74" y="395.30" width="2.4" height="5.6" rx="1.1" fill="#C00000"/>
<rect x="735.78" y="393.84" width="2.4" height="5.6" rx="1.1" fill="#C00000"/>
<rect x="745.82" y="392.38" width="2.4" height="5.6" rx="1.1" fill="#C00000"/>
<rect x="755.86" y="390.91" width="2.4" height="5.6" rx="1.1" fill="#C00000"/>
<rect x="765.90" y="389.45" width="2.4" height="5.6" rx="1.1" fill="#C00000"/>
<rect x="775.93" y="387.99" width="2.4" height="5.6" rx="1.1" fill="#C00000"/>
<rect x="785.97" y="386.53" width="2.4" height="5.6" rx="1.1" fill="#C00000"/>
<rect x="796.01" y="385.07" width="2.4" height="5.6" rx="1.1" fill="#C00000"/>
<rect x="806.05" y="383.61" width="2.4" height="5.6" rx="1.1" fill="#C00000"/>
<rect x="816.09" y="382.14" width="2.4" height="5.6" rx="1.1" fill="#C00000"/>
<rect x="826.13" y="380.68" width="2.4" height="5.6" rx="1.1" fill="#C00000"/>
<rect x="836.17" y="379.22" width="2.4" height="5.6" rx="1.1" fill="#C00000"/>
<rect x="846.21" y="377.76" width="2.4" height="5.6" rx="1.1" fill="#C00000"/>
<rect x="856.25" y="376.30" width="2.4" height="5.6" rx="1.1" fill="#C00000"/>
<rect x="866.29" y="374.84" width="2.4" height="5.6" rx="1.1" fill="#C00000"/>
<rect x="876.32" y="373.37" width="2.4" height="5.6" rx="1.1" fill="#C00000"/>
<rect x="886.36" y="371.91" width="2.4" height="5.6" rx="1.1" fill="#C00000"/>
<rect x="896.40" y="370.45" width="2.4" height="5.6" rx="1.1" fill="#C00000"/>
<rect x="906.44" y="368.99" width="2.4" height="5.6" rx="1.1" fill="#C00000"/>
<rect x="916.48" y="367.53" width="2.4" height="5.6" rx="1.1" fill="#C00000"/>
<rect x="926.52" y="366.07" width="2.4" height="5.6" rx="1.1" fill="#C00000"/>
<rect x="936.56" y="364.60" width="2.4" height="5.6" rx="1.1" fill="#C00000"/>
<rect x="946.60" y="363.14" width="2.4" height="5.6" rx="1.1" fill="#C00000"/>
<rect x="956.64" y="361.68" width="2.4" height="5.6" rx="1.1" fill="#C00000"/>
<rect x="966.68" y="360.22" width="2.4" height="5.6" rx="1.1" fill="#C00000"/>
<g stroke-width="5.7" stroke-dasharray="5.4 4.78">
<line x1="117.6" y1="67.9" x2="174.39999999999998" y2="67.9" stroke="#00B0F0"/>
<line x1="459" y1="67.9" x2="515.8" y2="67.9" stroke="#F79646"/>
<line x1="114.2" y1="128.8" x2="171.0" y2="128.8" stroke="#C00000"/>
<line x1="459" y1="128.8" x2="515.8" y2="128.8" stroke="#002060"/>
</g>
<text transform="translate(180.00,81.50) scale(1,1.04)" font-size="34" xml:space="preserve">G</text>
<text transform="translate(206.45,81.50) scale(1,0.98)" font-size="34" xml:space="preserve">d</text>
<text transform="translate(225.36,81.50) scale(1,1.0)" font-size="34" xml:space="preserve">-</text>
<text transform="translate(236.68,81.50) scale(1,1.04)" font-size="34" xml:space="preserve">DOTA</text>
<text transform="translate(331.12,81.50) scale(1,1.0)" font-size="34" xml:space="preserve">-</text>
<text transform="translate(342.45,81.50) scale(1,1.04)" font-size="34" xml:space="preserve">CND</text>
<text transform="translate(525.40,81.50) scale(1,1.04)" font-size="34" xml:space="preserve">G</text>
<text transform="translate(551.85,81.50) scale(1,0.98)" font-size="34" xml:space="preserve">d</text>
<text transform="translate(570.76,81.50) scale(1,1.0)" font-size="34" xml:space="preserve">-</text>
<text transform="translate(582.08,81.50) scale(1,1.04)" font-size="34" xml:space="preserve">DTPA</text>
<text transform="translate(672.76,81.50) scale(1,1.0)" font-size="34" xml:space="preserve">-</text>
<text transform="translate(684.08,81.50) scale(1,1.04)" font-size="34" xml:space="preserve">CND</text>
<text transform="translate(185.10,142.30) scale(1,1.04)" font-size="34" xml:space="preserve">M</text>
<text transform="translate(213.42,142.30) scale(1,0.98)" font-size="34" xml:space="preserve">agnevist</text>
<text transform="translate(527.90,142.20) scale(1,1.04)" font-size="34" xml:space="preserve">G</text>
<text transform="translate(554.35,142.20) scale(1,0.98)" font-size="34" xml:space="preserve">adovist</text>
<text transform="translate(50.69,122.30) scale(1,1.05)" font-size="34" xml:space="preserve">8</text>
<text transform="translate(50.69,217.30) scale(1,1.05)" font-size="34" xml:space="preserve">6</text>
<text transform="translate(50.69,315.00) scale(1,1.05)" font-size="34" xml:space="preserve">4</text>
<text transform="translate(50.69,413.00) scale(1,1.05)" font-size="34" xml:space="preserve">2</text>
<text transform="translate(50.69,511.20) scale(1,1.05)" font-size="34" xml:space="preserve">0</text>
<path transform="translate(31.60,24.40) scale(0.01660,-0.01693)" d="M763 0L583 0L583 1147Q518 1085 412 1023Q306 961 223 930L223 1104Q373 1175 486 1276Q599 1377 646 1472L763 1472Z"/>
<text transform="translate(52.21,24.40) scale(1,1.05)" font-size="34" xml:space="preserve">0</text>
<text transform="translate(88.95,552.00) scale(1,1.05)" font-size="34" xml:space="preserve">0</text>
<path transform="translate(277.62,552.00) scale(0.01660,-0.01693)" d="M763 0L583 0L583 1147Q518 1085 412 1023Q306 961 223 930L223 1104Q373 1175 486 1276Q599 1377 646 1472L763 1472Z"/>
<text transform="translate(250.87,552.00) scale(1,1.05)" font-size="34" xml:space="preserve">0</text>
<text transform="translate(271.48,552.00) scale(1,1.0)" font-size="34" xml:space="preserve">.</text>
<text transform="translate(427.07,552.00) scale(1,1.05)" font-size="34" xml:space="preserve">0</text>
<text transform="translate(447.68,552.00) scale(1,1.0)" font-size="34" xml:space="preserve">.</text>
<text transform="translate(453.82,552.00) scale(1,1.05)" font-size="34" xml:space="preserve">2</text>
<text transform="translate(603.22,552.00) scale(1,1.05)" font-size="34" xml:space="preserve">0</text>
<text transform="translate(623.83,552.00) scale(1,1.0)" font-size="34" xml:space="preserve">.</text>
<text transform="translate(629.97,552.00) scale(1,1.05)" font-size="34" xml:space="preserve">3</text>
<text transform="translate(779.37,552.00) scale(1,1.05)" font-size="34" xml:space="preserve">0</text>
<text transform="translate(799.98,552.00) scale(1,1.0)" font-size="34" xml:space="preserve">.</text>
<text transform="translate(806.12,552.00) scale(1,1.05)" font-size="34" xml:space="preserve">4</text>
<text transform="translate(955.52,552.00) scale(1,1.05)" font-size="34" xml:space="preserve">0</text>
<text transform="translate(976.13,552.00) scale(1,1.0)" font-size="34" xml:space="preserve">.</text>
<text transform="translate(982.27,552.00) scale(1,1.05)" font-size="34" xml:space="preserve">5</text>
<text transform="translate(372.57,596.40) scale(1,1.04)" font-size="34" xml:space="preserve">G</text>
<text transform="translate(399.01,596.40) scale(1,0.98)" font-size="34" xml:space="preserve">d</text>
<text transform="translate(417.92,596.40) scale(1,1.0)" font-size="34" xml:space="preserve"> </text>
<text transform="translate(427.37,596.40) scale(1,0.98)" font-size="34" xml:space="preserve">concentration</text>
<text transform="translate(631.50,596.40) scale(1,1.0)" font-size="34" xml:space="preserve"> (</text>
<text transform="translate(652.27,596.40) scale(1,0.98)" font-size="34" xml:space="preserve">m</text>
<text transform="translate(680.59,596.40) scale(1,1.04)" font-size="34" xml:space="preserve">M</text>
<text transform="translate(708.91,596.40) scale(1,1.0)" font-size="34" xml:space="preserve">)</text>
<g transform="translate(27.3,335.2) rotate(-90)">
<path transform="translate(0.00,0.00) scale(0.01660,-0.01677)" d="M763 0L583 0L583 1147Q518 1085 412 1023Q306 961 223 930L223 1104Q373 1175 486 1276Q599 1377 646 1472L763 1472Z"/>
<path transform="translate(68.02,0.00) scale(0.01660,-0.01677)" d="M763 0L583 0L583 1147Q518 1085 412 1023Q306 961 223 930L223 1104Q373 1175 486 1276Q599 1377 646 1472L763 1472Z"/>
<text transform="translate(18.91,0.00) scale(1,1.0)" font-size="34" xml:space="preserve"> / </text>
<text transform="translate(47.25,0.00) scale(1,1.04)" font-size="34" xml:space="preserve">T</text>
<text transform="translate(86.93,0.00) scale(1,1.0)" font-size="34" xml:space="preserve"> (</text>
<text transform="translate(107.69,0.00) scale(1,0.98)" font-size="34" xml:space="preserve">s</text>
<path transform="translate(132.69,-10.70) scale(0.01172,-0.01184)" d="M763 0L583 0L583 1147Q518 1085 412 1023Q306 961 223 930L223 1104Q373 1175 486 1276Q599 1377 646 1472L763 1472Z"/>
<text transform="translate(124.69,-10.70) scale(1,1.0)" font-size="24" xml:space="preserve">-</text>
<text transform="translate(146.03,0.00) scale(1,1.0)" font-size="34" xml:space="preserve">)</text>
</g>
</svg>
</body></html>
